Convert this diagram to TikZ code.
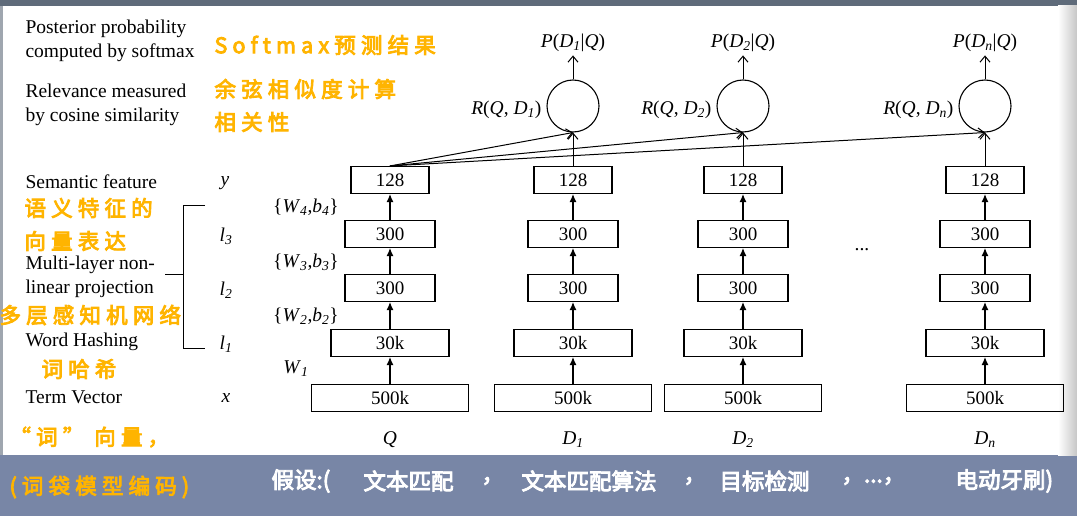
\documentclass[tikz,border=0pt]{standalone}
\usepackage{fontspec}
\setmainfont{Liberation Serif}
\newfontfamily\cjk{Noto Sans CJK SC}[AutoFakeBold=4]
\newfontfamily\cjksp{Noto Sans CJK SC}[LetterSpace=24,AutoFakeBold=4]
\usetikzlibrary{arrows.meta}
\definecolor{orng}{HTML}{FFB400}
\definecolor{band}{HTML}{7886A6}
\definecolor{topband}{HTML}{5F6B7A}
\newcommand{\iv}[1]{\textit{#1}}
\newcommand{\sbs}[1]{\textsubscript{#1}}
\begin{document}
\begin{tikzpicture}[x=1pt,y=-1pt,
  box/.style={draw,line width=1.1pt,minimum height=27pt,inner sep=0pt,font=\fontsize{19}{19}\selectfont},
  circ/.style={draw,line width=1.1pt,circle,minimum size=52pt,inner sep=0pt},
  en/.style={anchor=west,font=\fontsize{19.5}{24}\selectfont,align=left},
  lab/.style={font=\fontsize{19.5}{19.5}\selectfont},
  ora/.style={anchor=west,text=orng,font=\cjksp\bfseries\fontsize{21.5}{21.5}\selectfont},
  wt/.style={anchor=west,text=white,font=\cjk\bfseries\fontsize{22.5}{22.5}\selectfont},
  arr/.style={-{Latex[length=8pt,width=7pt]},line width=1.1pt},
  oarr/.style={-{Straight Barb[length=6pt,width=10pt]},line width=1pt}]
\useasboundingbox (0,0) rectangle (1077,516);
\fill[white] (0,0) rectangle (1077,516);
\fill[topband] (0,0) rectangle (1077,6);
\fill[band] (0,455) rectangle (1077,516);
\fill[topband!60] (0,6) rectangle (3,455);
\shade[left color=white,right color=gray!45] (1058,6) rectangle (1077,455);
% left labels
\node[en] (t1) at (22,41) {Posterior probability\\computed by softmax};
\node[en] (t2) at (22,105) {Relevance measured\\by cosine similarity};
\node[en] (t3) at (22,182) {Semantic feature};
\node[en] (t4) at (22,277) {Multi-layer non-\\linear projection};
\node[en] (t5) at (22,342) {Word Hashing};
\node[en] (t6) at (22,397) {Term Vector};
\node[ora] (o1) at (211,45) {Softmax预测结果};
\node[ora] (o2) at (211,89) {余弦相似度计算};
\node[ora] (o3) at (211,122) {相关性};
\node[ora] (o4) at (21,208) {语义特征的};
\node[ora] (o5) at (21,241) {向量表达};
\node[ora] (o6) at (-4,315) {多层感知机网络};
\node[ora] (o7) at (38,369) {词哈希};
\node[ora] (o8) at (6,437) {“词” 向量，};
\node[ora] (o9) at (6,487) {(词袋模型编码)};
\node[wt] (b1) at (268,481) {假设:(};
\node[wt] (b2) at (360,481) {文本匹配};
\node[wt] (b3) at (478,481) {，};
\node[wt] (b4) at (518,481) {文本匹配算法};
\node[wt] (b5) at (680,481) {，};
\node[wt] (b6) at (716,481) {目标检测};
\node[wt] (b7) at (838,481) {，...，};
\node[wt] (b8) at (952,481) {电动牙刷)};
% layer symbols
\node[lab] (sy) at (225,183) {\iv{y}};
\node[lab] (s3) at (226,236) {\iv{l}\sbs{\iv{3}}};
\node[lab] (s2) at (226,290) {\iv{l}\sbs{\iv{2}}};
\node[lab] (s1) at (226,344) {\iv{l}\sbs{\iv{1}}};
\node[lab] (sx) at (226,398) {\iv{x}};
\node[lab] (w4) at (306,207) {\{\iv{W}\sbs{\iv{4}},\iv{b}\sbs{\iv{4}}\}};
\node[lab] (w3) at (306,262) {\{\iv{W}\sbs{\iv{3}},\iv{b}\sbs{\iv{3}}\}};
\node[lab] (w2) at (306,316) {\{\iv{W}\sbs{\iv{2}},\iv{b}\sbs{\iv{2}}\}};
\node[lab] (w1) at (296,369) {\iv{W}\sbs{\iv{1}}};
\draw[line width=0.9pt] (205,205) -- (183,205) -- (183,348) -- (205,348);
\draw[line width=0.9pt] (183,274) -- (165,274);
% columns
\foreach \n/\cx/\dl in {q/390/Q, a/573/\iv{D}\sbs{\iv{1}}, b/743/\iv{D}\sbs{\iv{2}}, c/985/\iv{D}\sbs{\iv{n}}}{
  \node[box,minimum width=157pt] (\n5) at (\cx,398) {500k};
  \node[box,minimum width=118pt] (\n4) at (\cx,343) {30k};
  \node[box,minimum width=90pt] (\n3) at (\cx,288) {300};
  \node[box,minimum width=90pt] (\n2) at (\cx,234) {300};
  \node[box,minimum width=78pt] (\n1) at (\cx,180) {128};
  \node[lab] (\n l) at (\cx,440) {\iv{\dl}};
  \draw[arr] (\n5) -- (\n4);
  \draw[arr] (\n4) -- (\n3);
  \draw[arr] (\n3) -- (\n2);
  \draw[arr] (\n2) -- (\n1);
}
\node[lab] (dots) at (862,250) {...};
\foreach \n/\cx/\dl in {a/573/\iv{D}\sbs{\iv{1}}, b/743/\iv{D}\sbs{\iv{2}}, c/985/\iv{D}\sbs{\iv{n}}}{
  \node[circ] (\n c) at (\cx,106) {};
  \node[lab,anchor=east] (\n r) at (\cx-28,110) {\iv{R}(\iv{Q}, \dl)};
  \node[lab] (\n p) at (\cx,43) {\iv{P}(\dl|\iv{Q})};
  \draw[oarr] (\n c) -- (\n p);
  \draw[oarr] (\n1) -- (\n c);
  \draw[oarr] (q1.north) -- (\n c.south);
}
\end{tikzpicture}
\end{document}
